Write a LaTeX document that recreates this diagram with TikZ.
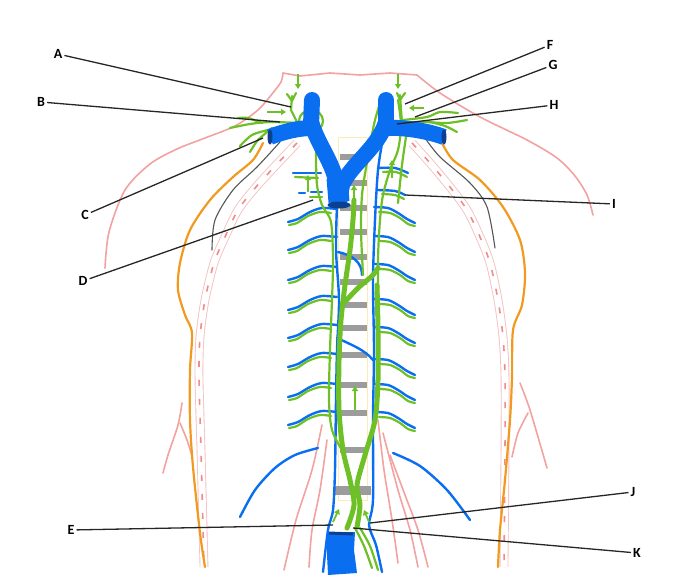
\documentclass[tikz,border=0pt]{standalone}
\usepackage{fontspec}
\setmainfont{Carlito}
\usepackage{tikz}
\usetikzlibrary{arrows.meta}
\definecolor{skinc}{HTML}{F2A2A0}
\definecolor{palec}{HTML}{F4C2C2}
\definecolor{dashc}{HTML}{F08C8C}
\definecolor{orangec}{HTML}{F29A1F}
\definecolor{grayc}{HTML}{555555}
\definecolor{bluec}{HTML}{0A6EF0}
\definecolor{darkbluec}{HTML}{0B3F8F}
\definecolor{greenc}{HTML}{6DC026}
\definecolor{discc}{HTML}{9C9C9C}
\definecolor{spinec}{HTML}{FCEBB8}
\tikzset{
  skin/.style={draw=skinc, line width=1.6pt, line cap=round, line join=round},
  palepink/.style={draw=palec, line width=0.9pt, double=white, double distance=7pt},
  paledash/.style={draw=dashc, line width=1.6pt, dash pattern=on 6pt off 13pt},
  nerve/.style={draw=orangec, line width=2.2pt, line cap=round},
  thinl/.style={draw=grayc, line width=1.1pt, line cap=round},
  vein/.style={draw=bluec, line width=2.4pt, line cap=round, line join=round},
  bigvein/.style={draw=bluec, line width=16pt, line join=round},
  lym/.style={draw=greenc, line width=2.2pt, line cap=round, line join=round},
  duct/.style={draw=greenc, line width=5pt, line cap=round, line join=round},
  flow/.style={draw=greenc, line width=1.8pt, -{Triangle[length=5pt,width=6pt]}},
  disc/.style={fill=discc},
  spine/.style={draw=spinec, line width=1pt},
  lead/.style={draw=black!85, line width=1.3pt},
  lab/.style={font=\bfseries\fontsize{14}{16}\selectfont, inner sep=2pt},
}
\begin{document}
\begin{tikzpicture}[x=1pt,y=-1pt]
  \useasboundingbox (0,0) rectangle (682,586);

  % pale double lines along the trunk
  \draw[palepink] plot[smooth] coordinates {(297,143) (278,163) (256,187) (238,210) (225,237) (214,263) (205,300) (200,337) (199,377) (201,450) (204,567)};
  \draw[palepink] plot[smooth] coordinates {(412,143) (430,163) (450,187) (467,210) (480,237) (490,263) (498,300) (503,337) (505,377) (505,450) (504,567)};
  \draw[paledash] plot[smooth] coordinates {(297,143) (278,163) (256,187) (238,210) (225,237) (214,263) (205,300) (200,337) (199,377) (201,450) (204,567)};
  \draw[paledash] plot[smooth] coordinates {(412,143) (430,163) (450,187) (467,210) (480,237) (490,263) (498,300) (503,337) (505,377) (505,450) (504,567)};

  % body outline
  \draw[skin] plot[smooth] coordinates {(105,268) (109,232) (125,190) (150,164) (177,149) (205,138) (235,126) (258,110) (272,94) (281,82) (283,73)}
    -- (300,76) -- (330,73) -- (360,75) -- (390,73) -- (417,75);
  \draw[skin] plot[smooth] coordinates {(417,75) (440,93) (480,117) (527,140) (557,158) (575,176) (587,195) (593,215)};
  \draw[skin] plot[smooth] coordinates {(182,403) (178,425) (168,455) (163,473)};
  \draw[skin] plot[smooth] coordinates {(180,423) (187,440) (192,456)};
  \draw[skin] plot[smooth] coordinates {(520,383) (530,410) (547,468)};
  \draw[skin] plot[smooth] coordinates {(528,413) (518,433) (512,457)};
  \draw[skin] plot[smooth] coordinates {(322,425) (312,470) (296,520) (284,570)};
  \draw[skin] plot[smooth] coordinates {(327,440) (320,490) (312,530) (309,567)};
  \draw[skin] plot[smooth] coordinates {(378,420) (384,470) (392,520) (398,563)};
  \draw[skin] plot[smooth] coordinates {(383,433) (398,490) (410,530) (418,567)};
  \draw[skin] plot[smooth] coordinates {(390,455) (405,495) (418,530) (428,567)};

  % nerves and thin lines
  \draw[nerve] plot[smooth] coordinates {(263,143) (253,160) (233,177) (210,200) (190,230) (180,263) (178,290) (185,315) (192,333) (190,370) (190,420) (193,467) (200,533) (205,567)};
  \draw[nerve] plot[smooth] coordinates {(442,143) (453,160) (480,180) (503,207) (520,240) (525,273) (522,305) (513,330) (512,377) (510,420) (505,480) (500,530) (498,567)};
  \draw[thinl] plot[smooth] coordinates {(280,142) (257,167) (233,190) (215,220) (212,250)};
  \draw[thinl] plot[smooth] coordinates {(425,138) (440,157) (470,183) (487,207) (495,248)};

  % spine
  \draw[spine] (338,137) rectangle (367,500);
  \foreach \y in {157,183,208,232,257,282,305,328,355,385,413,450}
    \fill[disc] (340,\y-3) rectangle (367,\y+3);
  \fill[disc] (335,486) rectangle (371,495);

  % intercostal veins and lymphatics
  \foreach \y in {222,250,280,310,338,367,397,425} {
    \draw[vein] plot[smooth] coordinates {(337,\y-13) (322,\y-14) (310,\y-10) (298,\y-3) (288,\y)};
    \draw[lym] plot[smooth] coordinates {(331,\y-9) (320,\y-10) (308,\y-6) (297,\y+1) (289,\y+3)};
  }
  \foreach \y in {223,252,280,315,343,375,400,428} {
    \draw[vein] plot[smooth] coordinates {(374,\y-16) (388,\y-15) (398,\y-10) (407,\y-4) (415,\y)};
    \draw[lym] plot[smooth] coordinates {(379,\y-11) (390,\y-10) (400,\y-5) (408,\y+1) (415,\y+3)};
  }
  \draw[vein] (293,173) -- (321,173);
  \draw[lym] (295,177) -- (318,178);
  \draw[vein] (299,193) -- (305,193);
  \draw[vein] (311,192) -- (322,192);
  \draw[lym] (310,197) -- (322,197);
  \draw[vein] plot[smooth] coordinates {(378,168) (395,168) (408,173)};
  \draw[lym] plot[smooth] coordinates {(383,172) (396,172) (407,177)};
  \draw[vein] plot[smooth] coordinates {(377,190) (395,191) (405,195)};
  \draw[lym] plot[smooth] coordinates {(382,194) (395,195) (404,199)};

  % vertical veins
  \draw[vein] plot[smooth] coordinates {(337,205) (336,250) (339,300) (337,350) (336,400) (335,470) (333,510) (328,530) (323,572)};
  \draw[vein] plot[smooth] coordinates {(383,138) (378,170) (375,220) (373,280) (374,350) (373,420) (373,500) (369,525) (376,545) (382,572)};
  \draw[vein] (338,252) .. controls (352,255) and (362,262) .. (362,275);
  \draw[vein] (337,338) .. controls (352,345) and (365,350) .. (373,360);
  \draw[vein] plot[smooth] coordinates {(318,448) (295,455) (275,468) (255,490) (240,517)};
  \draw[vein] plot[smooth] coordinates {(393,453) (420,466) (447,490) (470,520)};

  % lymphatic trunks
  \draw[lym] plot[smooth] coordinates {(318,117) (316,150) (317,185) (322,205) (331,222) (333,260) (332,300) (330,350) (329,400) (332,430) (342,450)};
  \draw[lym] plot[smooth] coordinates {(398,100) (401,125) (398,150) (390,170) (383,195) (380,220) (378,260) (378,330) (377,400)};
  \draw[lym] plot[smooth] coordinates {(407,130) (402,165) (398,203)};
  \draw[lym] plot[smooth] coordinates {(381,100) (375,120) (371,140) (366,168) (362,195) (361,230) (363,275)};
  \draw[lym] (311,121) ellipse (12 and 11);
  \draw[duct] plot[smooth] coordinates {(347,528) (354,505) (350,480) (343,450) (339,410) (339,360) (341,320) (345,285) (350,250) (353,220) (354,200)};
  \draw[duct] plot[smooth] coordinates {(357,527) (360,505) (357,485) (365,455) (375,420) (378,380) (378,330) (377,285)};
  \draw[duct] plot[smooth] coordinates {(342,305) (358,288) (372,276) (378,268)};
  \draw[lym] plot[smooth] coordinates {(355,528) (364,546) (372,568)};
  \draw[lym] plot[smooth] coordinates {(360,528) (370,546) (378,570)};

  % small lymphatic trees at the neck
  \draw[lym] (297,122) -- (291,110) -- (292,96);
  \draw[lym] (292,101) -- (287,94);
  \draw[lym] (292,101) -- (296,93);
  \draw[lym] plot[smooth] coordinates {(300,123) (270,122) (250,124) (230,128)};
  \draw[lym] plot[smooth] coordinates {(290,125) (268,130) (252,135) (240,146)};
  \draw[lym] plot[smooth] coordinates {(272,128) (258,140) (250,152)};
  \draw[lym] plot[smooth] coordinates {(262,123) (248,118) (238,118)};
  \draw[lym] (402,122) -- (401,110) -- (400,95);
  \draw[lym] (400,100) -- (397,93);
  \draw[lym] (400,100) -- (405,93);
  \draw[lym] plot[smooth] coordinates {(403,120) (427,117) (440,112) (458,113)};
  \draw[lym] plot[smooth] coordinates {(405,124) (423,122) (447,123) (467,120)};
  \draw[lym] plot[smooth] coordinates {(430,122) (445,126) (457,132)};

  % great veins
  \draw[bigvein, line cap=round] (312,100) -- (311,125);
  \draw[bigvein, line cap=round] (386,100) -- (386,125);
  \draw[bigvein] (270,137) .. controls (285,131) and (300,128) .. (312,128);
  \draw[bigvein] (444,137) .. controls (425,130) and (400,127) .. (386,128);
  \draw[bigvein] (311,122) .. controls (318,145) and (333,162) .. (337,185) -- (339,202);
  \draw[bigvein] (386,122) .. controls (378,148) and (352,163) .. (342,185) -- (339,202);
  \draw[bigvein, line width=21pt] (337,178) -- (339,202);
  \fill[darkbluec] (339,205) ellipse (11.5 and 3.5);
  \fill[darkbluec] (270,137) ellipse (2.5 and 7.5);
  \fill[darkbluec] (444,137) ellipse (2.5 and 7.5);
  \fill[bluec] (327,532) -- (355,532) -- (354,550) -- (357,573) -- (328,575) -- (327,555) -- cycle;
  \draw[darkbluec, line width=3pt] (329,533) -- (353,534);

  % flow arrows
  \draw[flow] (298,74) -- (298,89);
  \draw[flow] (398,74) -- (398,89);
  \draw[flow] (267,112) -- (286,112);
  \draw[flow] (424,108) -- (409,108);
  \draw[flow] (308,192) -- (308,175);
  \draw[flow] (354,205) -- (354,185);
  \draw[flow] (392,178) -- (392,160);
  \draw[flow] (355,410) -- (355,386);
  \draw[flow] (333,522) -- (339,509);
  \draw[flow] (369,522) -- (364,510);

  % labels
  \node[lab] (A) at (58,54) {A};
  \node[lab] (B) at (41,102) {B};
  \node[lab] (C) at (85,215) {C};
  \node[lab] (D) at (83,281) {D};
  \node[lab] (E) at (71,530) {E};
  \node[lab] (F) at (550,45) {F};
  \node[lab] (G) at (553,65) {G};
  \node[lab] (H) at (554,105) {H};
  \node[lab] (I) at (614,204) {I};
  \node[lab] (J) at (633,492) {J};
  \node[lab] (K) at (637,553) {K};
  \coordinate (a) at (291,107);
  \coordinate (b) at (280,122);
  \coordinate (c) at (263,138);
  \coordinate (d) at (313,200);
  \coordinate (e) at (333,525);
  \coordinate (f) at (405,104);
  \coordinate (g) at (415,117);
  \coordinate (h) at (397,124);
  \coordinate (i) at (405,195);
  \coordinate (j) at (370,523);
  \coordinate (k) at (353,528);
  \draw[lead] (A) -- (a);
  \draw[lead] (B) -- (b);
  \draw[lead] (C) -- (c);
  \draw[lead] (D) -- (d);
  \draw[lead] (E) -- (e);
  \draw[lead] (F) -- (f);
  \draw[lead] (G) -- (g);
  \draw[lead] (H) -- (h);
  \draw[lead] (I) -- (i);
  \draw[lead] (J) -- (j);
  \draw[lead] (K) -- (k);
\end{tikzpicture}
\end{document}
